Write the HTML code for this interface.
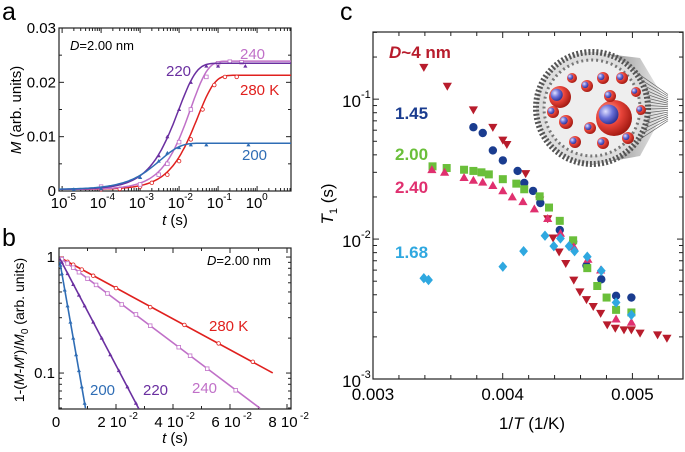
<!DOCTYPE html>
<html><head><meta charset="utf-8"><style>
body{margin:0;background:#fff}
svg{display:block;font-family:"Liberation Sans",Arial,sans-serif}
</style></head><body>
<svg id="fig" width="685" height="452" viewBox="0 0 685 452" xmlns="http://www.w3.org/2000/svg">
<defs>
<radialGradient id="gr" cx="35%" cy="35%" r="70%"><stop offset="0" stop-color="#ffb0a0"/><stop offset="0.5" stop-color="#e8443a"/><stop offset="1" stop-color="#a01810"/></radialGradient>
<radialGradient id="gb" cx="35%" cy="35%" r="70%"><stop offset="0" stop-color="#e0e0ff"/><stop offset="0.5" stop-color="#6a70d8"/><stop offset="1" stop-color="#2a2f90"/></radialGradient>
<linearGradient id="gt" x1="0" x2="1"><stop offset="0" stop-color="#777"/><stop offset="1" stop-color="#f4f4f4"/></linearGradient>
</defs>
<text x="2" y="20" font-size="25">a</text>
<text x="2" y="246" font-size="25">b</text>
<text x="340" y="20" font-size="25">c</text>
<g id="pa"></g>
<g id="pb"></g>
<g id="pc"></g>
</svg>
<script>
// ---------- Panel a data ----------
const aSeries = ['280 K','240','220','200'];
const aFitM0 = [0.021, 0.0236, 0.0232, 0.0085];
const aFitT1 = [0.030, 0.020, 0.0098, 0.0033];
const aFitBeta = [1.0, 1.0, 0.95, 0.85];
const aT280 = [1e-4,3e-4,1e-3,2e-3,5e-3,0.01,0.02,0.04,0.08,0.15,0.3];
const aM280 = [0.0003,0.0004,0.0008,0.0015,0.003,0.0055,0.0095,0.015,0.0195,0.021,0.021];
const aT240 = [1e-4,1e-3,3e-3,5e-3,0.01,0.02,0.05,0.1,0.2,0.4];
const aM240 = [0.0008,0.0012,0.003,0.005,0.009,0.015,0.021,0.0235,0.0238,0.0237];
const aT220 = [1e-3,3e-3,0.005,0.01,0.02,0.05,0.1,0.5];
const aM220 = [0.0025,0.0065,0.010,0.015,0.02,0.023,0.023,0.023];
const aT200 = [2e-5,1e-4,1e-3,3e-3,0.005,0.01,0.02,0.05,0.6];
const aM200 = [0.0003,0.0004,0.0025,0.0055,0.007,0.008,0.0085,0.0085,0.0085];
const aYTicks = [0,0.01,0.02,0.03];
const aYTickLabels = ['0','0.01','0.02','0.03'];
const aXExps = [-5,-4,-3,-2,-1,0];
// ---------- Panel b data ----------
const bSeries = ['280 K','240','220','200'];
const bFitT1 = [0.0326,0.0235,0.0093,0.0031];
const bFitEnd = [0.075,0.0705,0.028,0.0093];
const bT280 = [0.001,0.003,0.005,0.008,0.012,0.02,0.032,0.044,0.056,0.068];
const bY280 = [0.97,0.91,0.86,0.78,0.69,0.54,0.37,0.26,0.18,0.125];
const bT240 = [0.001,0.003,0.005,0.007,0.01,0.013,0.017,0.022,0.027,0.032,0.042,0.046,0.052,0.062];
const bY240 = [0.96,0.88,0.81,0.74,0.65,0.575,0.485,0.39,0.32,0.256,0.167,0.141,0.109,0.071];
const bT220 = [0.001,0.003,0.005,0.007,0.009,0.012,0.015,0.018,0.021,0.024,0.027];
const bY220 = [0.90,0.72,0.58,0.47,0.38,0.275,0.2,0.144,0.105,0.076,0.055];
const bT200 = [0.0005,0.001,0.002,0.003,0.004,0.005,0.006,0.007,0.008,0.009];
const bY200 = [0.85,0.72,0.52,0.38,0.275,0.2,0.144,0.105,0.076,0.055];
const bXTicks = [0,0.02,0.04,0.06,0.08];
const bXTickMant = ['0','2','4','6','8'];
// ---------- Panel c data ----------
const cX4 = [0.003392,0.003573,0.003774,0.003924,0.004001,0.004032,0.004177,0.004285,0.004347,0.004388,0.004435,0.004486,0.004548,0.004595,0.004646,0.004698,0.004755,0.004806,0.004868,0.004935,0.004992,0.005059,0.005194,0.005266];
const cY4 = [0.169,0.124,0.084,0.063,0.051,0.0475,0.0294,0.019,0.014,0.0102,0.0081,0.0067,0.0051,0.0042,0.0037,0.0033,0.00295,0.00244,0.00231,0.00225,0.00225,0.00213,0.00207,0.00196];
const cX145 = [0.003774,0.003846,0.003924,0.004001,0.004115,0.004166,0.004234,0.004290,0.004440,0.004543,0.004646,0.004760,0.004874,0.004992];
const cY145 = [0.063,0.0573,0.043,0.0365,0.0307,0.0252,0.0221,0.0181,0.0116,0.0096,0.00646,0.00516,0.00393,0.00382];
const cX200 = [0.003459,0.003568,0.003702,0.003774,0.003836,0.003893,0.004001,0.004105,0.004166,0.004285,0.004357,0.004440,0.004543,0.004652,0.004729,0.004801,0.004874,0.004992];
const cY200 = [0.0331,0.0322,0.0313,0.0307,0.030,0.029,0.0268,0.0249,0.0227,0.0202,0.0168,0.0135,0.0098,0.0062,0.00462,0.00382,0.00312,0.00299];
const cX240 = [0.003454,0.003552,0.003702,0.003774,0.003846,0.003924,0.004001,0.004074,0.004156,0.004244,0.004347,0.004445,0.004548,0.004657,0.004755,0.004874,0.004992];
const cY240 = [0.0313,0.030,0.0275,0.0263,0.0255,0.0241,0.0221,0.020,0.0185,0.0164,0.014,0.011,0.0088,0.00716,0.006,0.00268,0.00254];
const cX168 = [0.003392,0.003428,0.004001,0.004161,0.004326,0.004394,0.004445,0.004512,0.004554,0.004652,0.004760,0.004874,0.004992];
const cY168 = [0.00525,0.0051,0.00635,0.0082,0.01057,0.0089,0.0101,0.0089,0.0082,0.00748,0.00594,0.00352,0.00287];
const cXTicks = [0.003,0.004,0.005];
const cXTickLabels = ['0.003','0.004','0.005'];
const cYExps = [-3,-2,-1];

const NS='http://www.w3.org/2000/svg';
function mk(tag,attrs,parent,text){const e=document.createElementNS(NS,tag);for(const k in attrs)e.setAttribute(k,attrs[k]);if(text!==undefined)e.textContent=text;parent.appendChild(e);return e;}
function linScale(d0,d1,r0,r1){return v=>r0+(v-d0)/(d1-d0)*(r1-r0);}
function logScale(d0,d1,r0,r1){return v=>r0+(Math.log10(v)-d0)/(d1-d0)*(r1-r0);}
function marker(g,shape,x,y,s,color,fill){
  let e;
  if(shape==='circle') e=mk('circle',{cx:x,cy:y,r:s,fill:fill?color:'#fff','stroke':color,'stroke-width':fill?0:0.8},g);
  else if(shape==='square') e=mk('rect',{x:x-s,y:y-s,width:2*s,height:2*s,fill:fill?color:'#fff',stroke:color,'stroke-width':fill?0:0.8},g);
  else if(shape==='tri') e=mk('polygon',{points:`${x},${y-s*1.15} ${x-s*1.15},${y+s*0.85} ${x+s*1.15},${y+s*0.85}`,fill:color},g);
  else if(shape==='dtri') e=mk('polygon',{points:`${x},${y+s*1.15} ${x-s*1.15},${y-s*0.85} ${x+s*1.15},${y-s*0.85}`,fill:color},g);
  else e=mk('polygon',{points:`${x},${y-s*1.3} ${x+s*1.1},${y} ${x},${y+s*1.3} ${x-s*1.1},${y}`,fill:color},g);
  return e;
}
function box(g,L,T,R,B){mk('rect',{x:L,y:T,width:R-L,height:B-T,fill:'none',stroke:'#222','stroke-width':1.2},g);}

// ================= Panel a =================
(function(){
 const g=document.getElementById('pa');
 const L=59,R=291,T=28,B=191;
 const sx=logScale(-5.08,0.87,L,R), sy=linScale(0,0.03,B,T);
 box(g,L,T,R,B);
 aYTicks.forEach((v,i)=>{const y=sy(v);
  mk('line',{x1:L,x2:L+5,y1:y,y2:y,stroke:'#222'},g);mk('line',{x1:R,x2:R-5,y1:y,y2:y,stroke:'#222'},g);
  const t=mk('text',{x:L-3,y:y+5,'font-size':15,'text-anchor':'end'},g,aYTickLabels[i]);
  
  if(i<aYTicks.length-1){const ym=sy(v+0.005);mk('line',{x1:L,x2:L+3,y1:ym,y2:ym,stroke:'#222'},g);mk('line',{x1:R,x2:R-3,y1:ym,y2:ym,stroke:'#222'},g);}
 });
 for(let e=-5;e<=0;e++){for(let m=1;m<10;m++){const v=m*Math.pow(10,e);const x=sx(v);if(x<L||x>R)continue;const len=m===1?5:3;
  mk('line',{x1:x,x2:x,y1:B,y2:B-len,stroke:'#222'},g);mk('line',{x1:x,x2:x,y1:T,y2:T+len,stroke:'#222'},g);}}
 aXExps.forEach(e=>{const x=sx(Math.pow(10,e));
  const t=mk('text',{x:x-3,y:208,'font-size':15,'text-anchor':'middle'},g,'10');
  
  mk('text',{x:x+5,y:200,'font-size':10},g,String(e));});
 const yl=mk('text',{transform:'translate(21,110) rotate(-90)','font-size':15,'text-anchor':'middle'},g);
 
 mk('tspan',{'font-style':'italic'},yl,'M');mk('tspan',{},yl,' (arb. units)');
 const xl=mk('text',{x:175,y:225,'font-size':15,'text-anchor':'middle'},g);
 
 mk('tspan',{'font-style':'italic'},xl,'t');mk('tspan',{},xl,' (s)');
 const an=mk('text',{x:70,y:50,'font-size':13},g);
 
 mk('tspan',{'font-style':'italic'},an,'D');mk('tspan',{},an,'=2.00 nm');
 const colors=['#e0201e','#c070c8','#6a2fa0','#2f6db5'];
 const shapes=['circle','square','tri','tri'];
 const fills=[false,false,true,true];
 const Ts=[aT280,aT240,aT220,aT200], Ms=[aM280,aM240,aM220,aM200];
 aSeries.forEach((name,i)=>{
  let d='';for(let k=0;k<=120;k++){const lt=-5.08+k*(5.95/120);const t=Math.pow(10,lt);
   const m=0.0003+aFitM0[i]*(1-Math.exp(-Math.pow(t/aFitT1[i],aFitBeta[i])));d+=(k?'L':'M')+sx(t).toFixed(1)+','+sy(m).toFixed(1);}
  const p=mk('path',{d:d,fill:'none',stroke:colors[i],'stroke-width':1.5},g);
  
  Ts[i].forEach((t,k)=>{const e=marker(g,shapes[i],sx(t),sy(Ms[i][k]),1.8,colors[i],fills[i]);
   });
 });
 [['220',166,76,'#6a2fa0'],['240',240,59,'#c070c8'],['280 K',240,95,'#e0201e'],['200',242,160,'#2f6db5']].forEach(a=>{
  const t=mk('text',{x:a[1],y:a[2],'font-size':15,fill:a[3]},g,a[0]);
  });
})();

// ================= Panel b =================
(function(){
 const g=document.getElementById('pb');
 const L=59,R=291,T=248,B=409;
 const sx=linScale(0,0.0814,L,R), sy=logScale(-1.31,0.078,B,T);
 box(g,L,T,R,B);
 bXTicks.forEach((v,i)=>{const x=sx(v);
  mk('line',{x1:x,x2:x,y1:B,y2:B-5,stroke:'#222'},g);mk('line',{x1:x,x2:x,y1:T,y2:T+5,stroke:'#222'},g);
  const xm=sx(v+0.01);if(xm<R){mk('line',{x1:xm,x2:xm,y1:B,y2:B-3,stroke:'#222'},g);mk('line',{x1:xm,x2:xm,y1:T,y2:T+3,stroke:'#222'},g);}
  if(i===0){const t=mk('text',{x:x-3,y:427,'font-size':15,'text-anchor':'middle'},g,'0');}
  else{const t=mk('text',{x:x-4,y:427,'font-size':15,'text-anchor':'middle'},g,bXTickMant[i]+' 10');
   
   mk('text',{x:x+13,y:419,'font-size':10},g,'-2');}
 });
 for(let e=-2;e<=0;e++)for(let m=1;m<10;m++){const v=m*Math.pow(10,e);const y=sy(v);if(y>B||y<T)continue;const len=m===1?5:3;
  mk('line',{x1:L,x2:L+len,y1:y,y2:y,stroke:'#222'},g);mk('line',{x1:R,x2:R-len,y1:y,y2:y,stroke:'#222'},g);}
 [[1,'1'],[0.1,'0.1']].forEach(a=>{const t=mk('text',{x:L-4,y:sy(a[0])+5,'font-size':15,'text-anchor':'end'},g,a[1]);
  });
 const yl=mk('text',{transform:'translate(24,330) rotate(-90)','font-size':14,'text-anchor':'middle'},g);
 
 mk('tspan',{},yl,'1-(');mk('tspan',{'font-style':'italic'},yl,'M');mk('tspan',{},yl,'-');mk('tspan',{'font-style':'italic'},yl,'M');
 mk('tspan',{},yl,"')/");mk('tspan',{'font-style':'italic'},yl,'M');mk('tspan',{'font-size':10,dy:4},yl,'0');mk('tspan',{dy:-4},yl,' (arb. units)');
 const xl=mk('text',{x:175,y:443,'font-size':15,'text-anchor':'middle'},g);
 
 mk('tspan',{'font-style':'italic'},xl,'t');mk('tspan',{},xl,' (s)');
 const an=mk('text',{x:207,y:265,'font-size':13},g);
 
 mk('tspan',{'font-style':'italic'},an,'D');mk('tspan',{},an,'=2.00 nm');
 const colors=['#e0201e','#c070c8','#6a2fa0','#2f6db5'];
 const shapes=['circle','square','tri','tri'];const fills=[false,false,true,true];
 const Ts=[bT280,bT240,bT220,bT200], Ys=[bY280,bY240,bY220,bY200];
 bSeries.forEach((name,i)=>{
  const t0=0.0003,t1=bFitEnd[i];
  const p=mk('line',{x1:sx(t0),y1:sy(Math.exp(-t0/bFitT1[i])),x2:sx(t1),y2:sy(Math.exp(-t1/bFitT1[i])),stroke:colors[i],'stroke-width':1.6},g);
  
  Ts[i].forEach((t,k)=>{const e=marker(g,shapes[i],sx(t),sy(Ys[i][k]),1.8,colors[i],fills[i]);
   });
 });
 [['280 K',209,331,'#e0201e'],['240',192,393,'#c070c8'],['220',143,395,'#6a2fa0'],['200',90,395,'#2f6db5']].forEach(a=>{
  const t=mk('text',{x:a[1],y:a[2],'font-size':15,fill:a[3]},g,a[0]);
  });
})();

// ================= Panel c =================
(function(){
 const g=document.getElementById('pc');
 const L=373,R=683,T=32,B=379;
 const sx=linScale(0.003,0.00539,L,R), sy=logScale(-3,-0.52,B,T);
 box(g,L,T,R,B);
 cXTicks.forEach((v,i)=>{const x=sx(v);
  const t=mk('text',{x:x,y:400,'font-size':17,'text-anchor':'middle'},g,cXTickLabels[i]);
  });
 for(let v=0.003;v<0.00539;v+=0.0002){const x=sx(v);const major=Math.abs(v*1000-Math.round(v*1000))<1e-6;const len=major?6:4;
  mk('line',{x1:x,x2:x,y1:B,y2:B-len,stroke:'#222'},g);mk('line',{x1:x,x2:x,y1:T,y2:T+len,stroke:'#222'},g);}
 for(let e=-3;e<=-1;e++)for(let m=1;m<10;m++){const v=m*Math.pow(10,e);const y=sy(v);if(y<T||y>B)continue;const len=m===1?6:4;
  mk('line',{x1:L,x2:L+len,y1:y,y2:y,stroke:'#222'},g);mk('line',{x1:R,x2:R-len,y1:y,y2:y,stroke:'#222'},g);}
 cYExps.forEach(e=>{const y=sy(Math.pow(10,e));
  const t=mk('text',{x:L-12,y:y+8,'font-size':17,'text-anchor':'end'},g,'10');
  
  mk('text',{x:L-12,y:y-1,'font-size':11},g,String(e));});
 const yl=mk('text',{transform:'translate(333,204) rotate(-90)','font-size':17,'text-anchor':'middle'},g);
 
 mk('tspan',{'font-style':'italic'},yl,'T');mk('tspan',{'font-size':11,dy:4},yl,'1');mk('tspan',{dy:-4},yl,' (s)');
 const xl=mk('text',{x:532,y:429,'font-size':17,'text-anchor':'middle'},g);
 
 mk('tspan',{},xl,'1/');mk('tspan',{'font-style':'italic'},xl,'T');mk('tspan',{},xl,' (1/K)');
 // inset nanotube
 const ins=mk('g',{},g);
 mk('path',{d:'M590,52 L640,58 L668,105 L640,156 L590,165 Z',fill:'url(#gt)'},ins);
 for(let k=0;k<16;k++){const y=54+k*7;mk('line',{x1:610,y1:y,x2:668,y2:108+(y-108)*0.25,stroke:'#666','stroke-width':0.7},ins);}
 mk('ellipse',{cx:592,cy:108,rx:56,ry:56,fill:'#ddd'},ins);
 mk('ellipse',{cx:592,cy:108,rx:56,ry:56,fill:'none',stroke:'#555','stroke-width':6,'stroke-dasharray':'2 2'},ins);
 mk('ellipse',{cx:592,cy:108,rx:48,ry:48,fill:'#eee',stroke:'#777','stroke-width':3,'stroke-dasharray':'2 3'},ins);
 [[560,97,11],[614,118,18],[566,122,7],[587,86,6],[603,78,6],[622,78,6],[636,92,5],[641,110,5],[628,138,6],[603,143,6],[575,142,6],[553,112,6],[590,128,6],[572,78,5],[610,96,6]].forEach(b=>{
  mk('circle',{cx:b[0],cy:b[1],r:b[2],fill:'url(#gr)'},ins);mk('circle',{cx:b[0]-b[2]*0.3,cy:b[1]-b[2]*0.2,r:b[2]*0.55,fill:'url(#gb)'},ins);});
 const sets=[[cX4,cY4,'dtri','#b81c2c','d4'],[cX145,cY145,'circle','#1a3c8f','1.45'],[cX200,cY200,'square','#6abf3a','2.00'],[cX240,cY240,'tri','#e0306f','2.40'],[cX168,cY168,'diamond','#2fa8e0','1.68']];
 sets.forEach(s=>{s[0].forEach((x,k)=>{const e=marker(g,s[2],sx(x),sy(s[1][k]),s[2]==='circle'?4.2:4,s[3],true);
  });});
 const d4=mk('text',{x:389,y:58,'font-size':17,'font-weight':'bold',fill:'#b81c2c'},g);
 
 mk('tspan',{'font-style':'italic'},d4,'D');mk('tspan',{},d4,'~4 nm');
 [['1.45',395,119,'#1a3c8f'],['2.00',395,160,'#6abf3a'],['2.40',395,193,'#e0306f'],['1.68',395,258,'#2fa8e0']].forEach(a=>{
  const t=mk('text',{x:a[1],y:a[2],'font-size':17,'font-weight':'bold',fill:a[3]},g,a[0]);
  });
})();
</script>
</body></html>
